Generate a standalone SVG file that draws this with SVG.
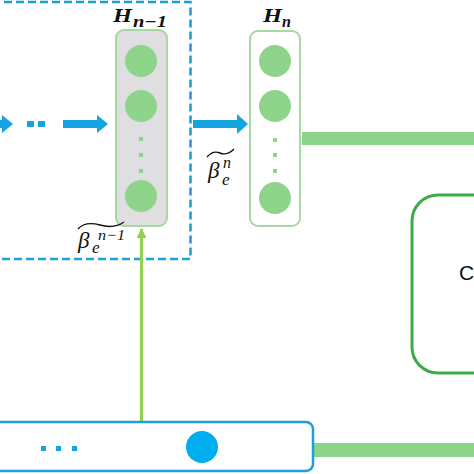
<svg xmlns="http://www.w3.org/2000/svg" width="474" height="474" viewBox="0 0 474 474">
<defs>
<style>
.lyr{stroke:#a6d9a0;stroke-width:2;}
.nd{fill:#8ed48b;}
.blu{fill:#14a5e0;}
.math{font-family:"Liberation Serif","DejaVu Serif",serif;font-style:italic;fill:#111;}
.hb{font-family:"Liberation Serif","DejaVu Serif",serif;font-style:italic;font-weight:bold;fill:#111;}
.tl{fill:none;stroke:#111;stroke-width:1.4;}
</style>
<marker id="gArr" viewBox="0 0 10 10" refX="9" refY="5" markerWidth="3.3" markerHeight="3.3" orient="auto">
<path d="M0,0 L10,5 L0,10 z" fill="#92d050"/>
</marker>
</defs>
<rect width="474" height="474" fill="#fff"/>

<g id="group-box">
<rect x="-20" y="2" width="210.5" height="257" fill="none" stroke="#1e9fd8" stroke-width="2.6" stroke-dasharray="8 4"/>
</g>

<g id="connectors">
<polygon class="blu" points="-10,120 2,120 2,115 13,124 2,133 2,128 -10,128"/>
<rect class="blu" x="27" y="121" width="7" height="6"/>
<rect class="blu" x="38" y="121" width="7" height="6"/>
<polygon class="blu" points="63,120 97,120 97,115 108,124 97,133 97,128 63,128"/>
<polygon class="blu" points="193,120 237,120 237,114 248,124 237,134 237,128 193,128"/>
<rect x="302" y="132" width="180" height="13" fill="#8cd48a"/>
<rect x="313" y="443" width="170" height="14" fill="#8cd48a"/>
<line x1="141.5" y1="422" x2="141.5" y2="229" stroke="#92d050" stroke-width="3" marker-end="url(#gArr)"/>
</g>

<g id="H-n-1">
<rect class="lyr" x="116" y="30" width="51" height="196" rx="8" fill="#dfdfe1"/>
<circle class="nd" cx="141" cy="61" r="16"/>
<circle class="nd" cx="141" cy="106" r="16"/>
<rect class="nd" x="139" y="137" width="4" height="4"/>
<rect class="nd" x="139" y="153" width="4" height="4"/>
<rect class="nd" x="139" y="169" width="4" height="4"/>
<circle class="nd" cx="141" cy="196" r="16"/>
<text class="hb" x="113" y="22" font-size="19" textLength="19" lengthAdjust="spacingAndGlyphs">H</text>
<text class="hb" x="133" y="27" font-size="16" textLength="34" lengthAdjust="spacingAndGlyphs">n−1</text>
<text class="math" x="78" y="248" font-size="23">β</text>
<text class="math" x="92" y="253" font-size="17">e</text>
<text class="math" x="98" y="240" font-size="15" textLength="27" lengthAdjust="spacingAndGlyphs">n−1</text>
<path class="tl" d="M78,229 Q85,221 100,225 Q114,229 124,222"/>
</g>

<g id="H-n">
<rect class="lyr" x="250" y="31" width="50" height="195" rx="8" fill="#fff"/>
<circle class="nd" cx="275" cy="61" r="16"/>
<circle class="nd" cx="275" cy="106" r="16"/>
<rect class="nd" x="273" y="138" width="4" height="4"/>
<rect class="nd" x="273" y="153" width="4" height="4"/>
<rect class="nd" x="273" y="169" width="4" height="4"/>
<circle class="nd" cx="275" cy="198" r="16"/>
<text class="hb" x="263" y="22" font-size="19" textLength="19" lengthAdjust="spacingAndGlyphs">H</text>
<text class="hb" x="282" y="27" font-size="16">n</text>
<text class="math" x="208" y="178" font-size="23">β</text>
<text class="math" x="222" y="185" font-size="17">e</text>
<text class="math" x="223" y="168" font-size="16">n</text>
<path class="tl" d="M207,157 Q213,150 220,153 Q227,156 234,149"/>
</g>

<g id="right-box">
<rect x="412" y="195" width="100" height="178" rx="26" fill="none" stroke="#3aab46" stroke-width="3"/>
<text x="459" y="280" font-family="Liberation Sans, Arial, sans-serif" font-size="21" fill="#111">C</text>
</g>

<g id="bottom-box">
<rect x="-10" y="422" width="323" height="49" rx="7" fill="#fff" stroke="#1e9fd8" stroke-width="2.5"/>
<rect class="blu" x="41" y="446" width="5" height="5"/>
<rect class="blu" x="56" y="446" width="5" height="5"/>
<rect class="blu" x="72" y="446" width="5" height="5"/>
<circle cx="202" cy="447" r="16" fill="#00aeef"/>
</g>
</svg>
